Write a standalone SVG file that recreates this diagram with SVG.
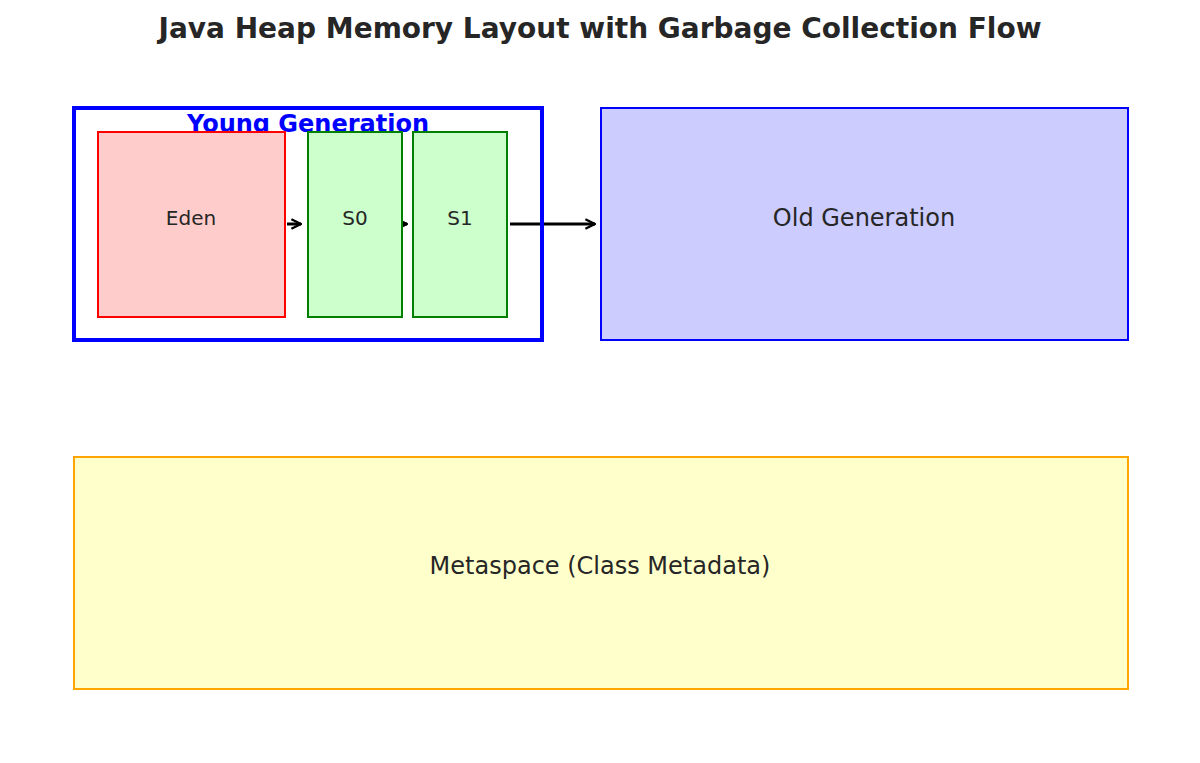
<svg xmlns="http://www.w3.org/2000/svg" width="1200" height="763" viewBox="0 0 1200 763">
<style>
text{font-family:"DejaVu Sans",sans-serif;fill:#262626;text-anchor:middle}
.ar{stroke:#000;stroke-width:3;fill:none}
</style>
<defs><marker id="h" viewBox="0 0 10 10" refX="9" refY="5" markerWidth="4" markerHeight="4" orient="auto" markerUnits="strokeWidth"><path d="M1,1 L9,5 L1,9" fill="none" stroke="#000" stroke-width="2"/></marker></defs>
<rect width="1200" height="763" fill="#fff"/>
<text x="600" y="38" font-size="28" font-weight="bold">Java Heap Memory Layout with Garbage Collection Flow</text>
<g id="connectors">
<line class="ar" x1="287" y1="224" x2="301" y2="224" marker-end="url(#h)"/>
<line class="ar" x1="396" y1="224" x2="407" y2="224" marker-end="url(#h)"/>
<line class="ar" x1="510" y1="224" x2="595" y2="224" marker-end="url(#h)"/>
</g>
<g id="young"><rect x="74" y="108" width="468" height="232" fill="none" stroke="#00f" stroke-width="4"/>
<text x="308" y="132" font-size="24" font-weight="bold" style="fill:#00f">Young Generation</text></g>
<g id="eden"><rect x="98" y="132" width="187" height="185" fill="#fcc" stroke="#f00" stroke-width="2"/><text x="191" y="225" font-size="20">Eden</text></g>
<g id="s0"><rect x="308" y="132" width="94" height="185" fill="#cfc" stroke="#007f00" stroke-width="2"/><text x="355" y="225" font-size="20">S0</text></g>
<g id="s1"><rect x="413" y="132" width="94" height="185" fill="#cfc" stroke="#007f00" stroke-width="2"/><text x="460" y="225" font-size="20">S1</text></g>
<g id="old"><rect x="601" y="108" width="527" height="232" fill="#ccf" stroke="#00f" stroke-width="2"/><text x="864" y="226" font-size="24">Old Generation</text></g>
<g id="meta"><rect x="74" y="457" width="1054" height="232" fill="#ffc" stroke="#ffa500" stroke-width="2"/><text x="600" y="574" font-size="24">Metaspace (Class Metadata)</text></g>
</svg>
